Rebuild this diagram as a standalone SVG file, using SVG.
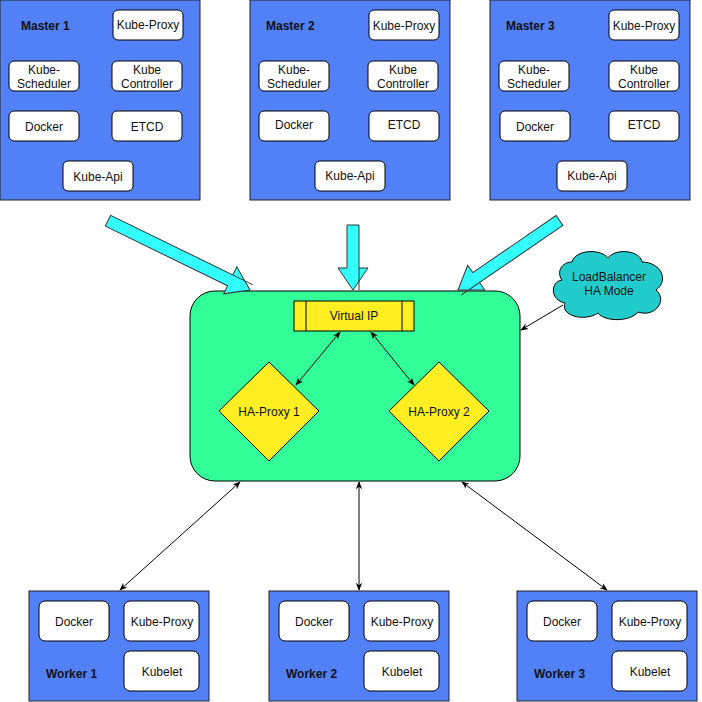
<svg xmlns="http://www.w3.org/2000/svg" width="702" height="702" viewBox="0 0 702 702">
<style>
.box{fill:#5281f7;stroke:#222;stroke-width:1}
.w{fill:#fff;stroke:#000;stroke-width:1}
text{font-family:"Liberation Sans",Arial,sans-serif;font-size:12px;fill:#111;text-anchor:middle}
.b{font-weight:bold;text-anchor:start}
.big{fill:#33ff99;stroke:#000}
.y{fill:#ffee22;stroke:#000}
.c{stroke:#000;stroke-width:1;fill:none;marker-start:url(#a);marker-end:url(#a)}
.fat{fill:#33ffff;stroke:#333;stroke-width:1}
</style>
<defs>
<marker id="a" viewBox="0 0 10 10" refX="9" refY="5" markerWidth="8" markerHeight="8" orient="auto-start-reverse" markerUnits="userSpaceOnUse"><path d="M0,1 L10,5 L0,9 L3,5 Z" fill="#000"/></marker>
<symbol id="fa" overflow="visible"><path d="M0,-6 H-22 V-15 L0,0 L-22,15 V6 H0 Z"/></symbol>
</defs>
<g id="master1">
<rect class="box" x="0" y="0" width="200" height="200"/>
<text class="b" x="21" y="30">Master 1</text>
<rect class="w" x="113" y="10" width="70" height="30" rx="5"/><text x="148" y="29">Kube-Proxy</text>
<rect class="w" x="9" y="61" width="70" height="30" rx="5"/><text x="44" y="74">Kube-</text><text x="44" y="88">Scheduler</text>
<rect class="w" x="112" y="61" width="70" height="30" rx="5"/><text x="147" y="74">Kube</text><text x="147" y="88">Controller</text>
<rect class="w" x="9" y="111" width="70" height="30" rx="5"/><text x="44" y="131">Docker</text>
<rect class="w" x="112" y="111" width="70" height="30" rx="5"/><text x="147" y="131">ETCD</text>
<rect class="w" x="63" y="161" width="70" height="30" rx="5"/><text x="98" y="181">Kube-Api</text>
</g>
<g id="master2">
<rect class="box" x="250" y="0" width="200" height="200"/>
<text class="b" x="266" y="30">Master 2</text>
<rect class="w" x="369" y="10" width="70" height="30" rx="5"/><text x="404" y="30">Kube-Proxy</text>
<rect class="w" x="259" y="61" width="70" height="30" rx="5"/><text x="294" y="74">Kube-</text><text x="294" y="88">Scheduler</text>
<rect class="w" x="368" y="61" width="70" height="30" rx="5"/><text x="403" y="74">Kube</text><text x="403" y="88">Controller</text>
<rect class="w" x="259" y="111" width="70" height="30" rx="5"/><text x="294" y="129">Docker</text>
<rect class="w" x="369" y="111" width="70" height="30" rx="5"/><text x="404" y="129">ETCD</text>
<rect class="w" x="315" y="161" width="70" height="30" rx="5"/><text x="350" y="180">Kube-Api</text>
</g>
<g id="master3">
<rect class="box" x="490" y="0" width="200" height="200"/>
<text class="b" x="506" y="30">Master 3</text>
<rect class="w" x="609" y="10" width="70" height="30" rx="5"/><text x="644" y="30">Kube-Proxy</text>
<rect class="w" x="499" y="61" width="70" height="30" rx="5"/><text x="534" y="74">Kube-</text><text x="534" y="88">Scheduler</text>
<rect class="w" x="609" y="61" width="70" height="30" rx="5"/><text x="644" y="74">Kube</text><text x="644" y="88">Controller</text>
<rect class="w" x="500" y="111" width="70" height="30" rx="5"/><text x="535" y="131">Docker</text>
<rect class="w" x="609" y="111" width="70" height="30" rx="5"/><text x="644" y="129">ETCD</text>
<rect class="w" x="557" y="161" width="70" height="30" rx="5"/><text x="592" y="180">Kube-Api</text>
</g>
<g id="lb">
<rect class="big" x="190" y="291" width="330" height="190" rx="25"/>
</g>
<g id="vip">
<rect class="y" x="294" y="301" width="120" height="30"/>
<line x1="306" y1="301" x2="306" y2="331" stroke="#000"/><line x1="402" y1="301" x2="402" y2="331" stroke="#000"/>
<text x="354" y="320">Virtual IP</text>
</g>
<g id="ha1"><path class="y" d="M269,362 L319,411 L269,461 L219,411 Z"/><text x="269" y="416">HA-Proxy 1</text></g>
<g id="ha2"><path class="y" d="M439,362 L489,411 L439,461 L389,411 Z"/><text x="439" y="416">HA-Proxy 2</text></g>
<g id="cloud">
<path d="M572,262 C575,250 600,248 608,258 C615,248 640,250 642,262 C660,262 670,280 656,290 C668,300 655,318 638,312 C630,322 605,322 598,313 C585,322 560,316 565,303 C550,300 550,282 562,280 C556,272 562,262 572,262 Z" fill="#22cccc" stroke="#000"/>
<text x="609" y="281">LoadBalancer</text><text x="609" y="295">HA Mode</text>
</g>
<g id="worker1">
<rect class="box" x="29" y="591" width="180" height="110"/>
<rect class="w" x="39" y="601" width="70" height="40" rx="6"/><text x="74" y="626">Docker</text>
<rect class="w" x="124" y="601" width="75" height="40" rx="6"/><text x="162" y="626">Kube-Proxy</text>
<rect class="w" x="124" y="651" width="75" height="40" rx="6"/><text x="162" y="676">Kubelet</text>
<text class="b" x="46" y="678">Worker 1</text>
</g>
<g id="worker2">
<rect class="box" x="269" y="591" width="180" height="110"/>
<rect class="w" x="279" y="601" width="70" height="40" rx="6"/><text x="314" y="626">Docker</text>
<rect class="w" x="364" y="601" width="75" height="40" rx="6"/><text x="402" y="626">Kube-Proxy</text>
<rect class="w" x="364" y="651" width="75" height="40" rx="6"/><text x="402" y="676">Kubelet</text>
<text class="b" x="286" y="678">Worker 2</text>
</g>
<g id="worker3">
<rect class="box" x="517" y="591" width="180" height="110"/>
<rect class="w" x="527" y="601" width="70" height="40" rx="6"/><text x="562" y="626">Docker</text>
<rect class="w" x="612" y="601" width="75" height="40" rx="6"/><text x="650" y="626">Kube-Proxy</text>
<rect class="w" x="612" y="651" width="75" height="40" rx="6"/><text x="650" y="676">Kubelet</text>
<text class="b" x="534" y="678">Worker 3</text>
</g>
<g id="connectors">
<path class="fat" d="M0,-6 H-158 V6 H-22 V15 L0,0 L-22,-15 V-6" transform="translate(250,290) rotate(26)"/>
<path class="fat" d="M0,-6 H-65 V6 H-22 V15 L0,0 L-22,-15 V-6" transform="translate(353,290) rotate(90)"/>
<path class="fat" d="M0,-6 H-123 V6 H-22 V15 L0,0 L-22,-15 V-6" transform="translate(458,290) rotate(145.6)"/>
<line class="c" x1="340" y1="332" x2="296" y2="385"/>
<line class="c" x1="371" y1="332" x2="414" y2="385"/>
<line x1="563" y1="305" x2="521" y2="330" stroke="#000" marker-end="url(#a)"/>
<line class="c" x1="240" y1="482" x2="120" y2="590"/>
<line class="c" x1="359" y1="482" x2="359" y2="590"/>
<line class="c" x1="462" y1="482" x2="607" y2="590"/>
</g>
</svg>
